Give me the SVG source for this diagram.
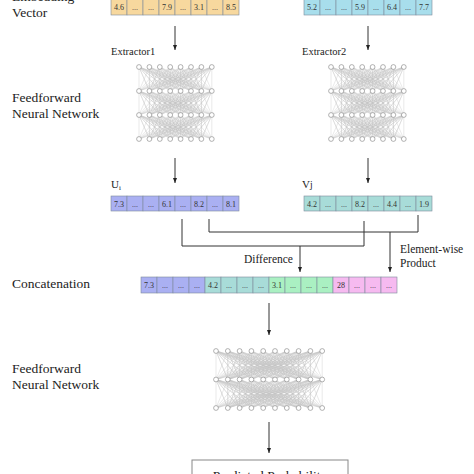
<svg xmlns="http://www.w3.org/2000/svg" xmlns:xlink="http://www.w3.org/1999/xlink" width="474" height="474" viewBox="0 0 474 474">
<style>
.lbl{font-family:"Liberation Serif","Times New Roman",serif;font-size:13.5px;fill:#222}
.sm{font-family:"Liberation Serif","Times New Roman",serif;font-size:10.5px;fill:#222}
.md{font-family:"Liberation Serif","Times New Roman",serif;font-size:11.5px;fill:#222}
.cv{font-family:"Liberation Serif","Times New Roman",serif;font-size:8px;fill:#333;text-anchor:middle}
.cell{stroke:#7d8a9c;stroke-width:0.6}
.o{fill:#f7d89e}.b{fill:#a8deec}.p{fill:#aab0f2}.t{fill:#a8dcd8}.g{fill:#aaf0c2}.k{fill:#f6baf0}
.con{fill:none;stroke:#333;stroke-width:1}
.edge{fill:none;stroke:#c4c4c4;stroke-width:0.35;stroke-linejoin:round}
.node{fill:#fff;stroke:#808080;stroke-width:0.6}
</style>
<defs>
<marker id="ah" markerUnits="userSpaceOnUse" markerWidth="6" markerHeight="5" refX="5" refY="2" orient="auto">
<path d="M0 0L5 2L0 4z" fill="#222"/>
</marker>
<path id="fc8" class="edge" d="M0 24L0 0L10 24L0 0L20 24L0 0L30 24L0 0L40 24L0 0L50 24L0 0L60 24L0 0L70 24M0 24L10 0L10 24L10 0L20 24L10 0L30 24L10 0L40 24L10 0L50 24L10 0L60 24L10 0L70 24M0 24L20 0L10 24L20 0L20 24L20 0L30 24L20 0L40 24L20 0L50 24L20 0L60 24L20 0L70 24M0 24L30 0L10 24L30 0L20 24L30 0L30 24L30 0L40 24L30 0L50 24L30 0L60 24L30 0L70 24M0 24L40 0L10 24L40 0L20 24L40 0L30 24L40 0L40 24L40 0L50 24L40 0L60 24L40 0L70 24M0 24L50 0L10 24L50 0L20 24L50 0L30 24L50 0L40 24L50 0L50 24L50 0L60 24L50 0L70 24M0 24L60 0L10 24L60 0L20 24L60 0L30 24L60 0L40 24L60 0L50 24L60 0L60 24L60 0L70 24M0 24L70 0L10 24L70 0L20 24L70 0L30 24L70 0L40 24L70 0L50 24L70 0L60 24L70 0L70 24"/>
<path id="fc10" class="edge" d="M0 28.5L0 0L10 28.5L0 0L20 28.5L0 0L30 28.5L0 0L40 28.5L0 0L50 28.5L0 0L60 28.5L0 0L70 28.5L0 0L80 28.5L0 0L90 28.5M0 28.5L10 0L10 28.5L10 0L20 28.5L10 0L30 28.5L10 0L40 28.5L10 0L50 28.5L10 0L60 28.5L10 0L70 28.5L10 0L80 28.5L10 0L90 28.5M0 28.5L20 0L10 28.5L20 0L20 28.5L20 0L30 28.5L20 0L40 28.5L20 0L50 28.5L20 0L60 28.5L20 0L70 28.5L20 0L80 28.5L20 0L90 28.5M0 28.5L30 0L10 28.5L30 0L20 28.5L30 0L30 28.5L30 0L40 28.5L30 0L50 28.5L30 0L60 28.5L30 0L70 28.5L30 0L80 28.5L30 0L90 28.5M0 28.5L40 0L10 28.5L40 0L20 28.5L40 0L30 28.5L40 0L40 28.5L40 0L50 28.5L40 0L60 28.5L40 0L70 28.5L40 0L80 28.5L40 0L90 28.5M0 28.5L50 0L10 28.5L50 0L20 28.5L50 0L30 28.5L50 0L40 28.5L50 0L50 28.5L50 0L60 28.5L50 0L70 28.5L50 0L80 28.5L50 0L90 28.5M0 28.5L60 0L10 28.5L60 0L20 28.5L60 0L30 28.5L60 0L40 28.5L60 0L50 28.5L60 0L60 28.5L60 0L70 28.5L60 0L80 28.5L60 0L90 28.5M0 28.5L70 0L10 28.5L70 0L20 28.5L70 0L30 28.5L70 0L40 28.5L70 0L50 28.5L70 0L60 28.5L70 0L70 28.5L70 0L80 28.5L70 0L90 28.5M0 28.5L80 0L10 28.5L80 0L20 28.5L80 0L30 28.5L80 0L40 28.5L80 0L50 28.5L80 0L60 28.5L80 0L70 28.5L80 0L80 28.5L80 0L90 28.5M0 28.5L90 0L10 28.5L90 0L20 28.5L90 0L30 28.5L90 0L40 28.5L90 0L50 28.5L90 0L60 28.5L90 0L70 28.5L90 0L80 28.5L90 0L90 28.5"/>
<g id="r8" class="node"><circle cx="0" cy="0" r="2.4"/><circle cx="10.4" cy="0" r="2.4"/><circle cx="20.8" cy="0" r="2.4"/><circle cx="31.2" cy="0" r="2.4"/><circle cx="41.6" cy="0" r="2.4"/><circle cx="52" cy="0" r="2.4"/><circle cx="62.4" cy="0" r="2.4"/><circle cx="72.8" cy="0" r="2.4"/></g>
<g id="r10" class="node"><circle cx="0" cy="0" r="2.4"/><circle cx="11.8" cy="0" r="2.4"/><circle cx="23.6" cy="0" r="2.4"/><circle cx="35.4" cy="0" r="2.4"/><circle cx="47.2" cy="0" r="2.4"/><circle cx="59" cy="0" r="2.4"/><circle cx="70.8" cy="0" r="2.4"/><circle cx="82.6" cy="0" r="2.4"/><circle cx="94.4" cy="0" r="2.4"/><circle cx="106.2" cy="0" r="2.4"/></g>
</defs>
<rect width="474" height="474" fill="#fff"/>

<g id="labels">
<text class="lbl" x="12" y="1">Embedding</text>
<text class="lbl" x="12" y="17">Vector</text>
<text class="lbl" x="12" y="102">Feedforward</text>
<text class="lbl" x="12" y="118">Neural Network</text>
<text class="lbl" x="12" y="288">Concatenation</text>
<text class="lbl" x="12" y="373">Feedforward</text>
<text class="lbl" x="12" y="389">Neural Network</text>
</g>

<g id="connectors">
<path class="con" d="M175 26V50" marker-end="url(#ah)"/>
<path class="con" d="M368 26V50" marker-end="url(#ah)"/>
<path class="con" d="M175 158V183" marker-end="url(#ah)"/>
<path class="con" d="M368 158V183" marker-end="url(#ah)"/>
<path class="con" d="M182 219V246H364V221"/>
<path class="con" d="M300 246V272" marker-end="url(#ah)"/>
<path class="con" d="M209 219V232H418V215"/>
<path class="con" d="M390 232V272" marker-end="url(#ah)"/>
<path class="con" d="M269 303V335" marker-end="url(#ah)"/>
<path class="con" d="M269 422V453" marker-end="url(#ah)"/>
<text class="md" x="244" y="263">Difference</text>
<text class="md" x="400" y="253">Element-wise</text>
<text class="md" x="400" y="267">Product</text>
</g>

<g id="embed1">
<g class="cell o"><rect x="111" y="-1" width="16" height="16"/><rect x="127" y="-1" width="16" height="16"/><rect x="143" y="-1" width="16" height="16"/><rect x="159" y="-1" width="16" height="16"/><rect x="175" y="-1" width="16" height="16"/><rect x="191" y="-1" width="16" height="16"/><rect x="207" y="-1" width="16" height="16"/><rect x="223" y="-1" width="16" height="16"/></g>
<text class="cv" x="119" y="10">4.6</text><text class="cv" x="135" y="10">...</text><text class="cv" x="151" y="10">...</text><text class="cv" x="167" y="10">7.9</text><text class="cv" x="183" y="10">...</text><text class="cv" x="199" y="10">3.1</text><text class="cv" x="215" y="10">...</text><text class="cv" x="231" y="10">8.5</text>
</g>

<g id="embed2">
<g class="cell b"><rect x="304" y="-1" width="16" height="16"/><rect x="320" y="-1" width="16" height="16"/><rect x="336" y="-1" width="16" height="16"/><rect x="352" y="-1" width="16" height="16"/><rect x="368" y="-1" width="16" height="16"/><rect x="384" y="-1" width="16" height="16"/><rect x="400" y="-1" width="16" height="16"/><rect x="416" y="-1" width="16" height="16"/></g>
<text class="cv" x="312" y="10">5.2</text><text class="cv" x="328" y="10">...</text><text class="cv" x="344" y="10">...</text><text class="cv" x="360" y="10">5.9</text><text class="cv" x="376" y="10">...</text><text class="cv" x="392" y="10">6.4</text><text class="cv" x="408" y="10">...</text><text class="cv" x="424" y="10">7.7</text>
</g>

<g id="extractor1">
<text class="sm" x="111" y="55">Extractor1</text>
<use xlink:href="#fc8" transform="translate(139,67) scale(1.04,1)"/>
<use xlink:href="#fc8" transform="translate(139,91) scale(1.04,1)"/>
<use xlink:href="#fc8" transform="translate(139,115) scale(1.04,1)"/>
<use xlink:href="#r8" x="139" y="67"/><use xlink:href="#r8" x="139" y="91"/><use xlink:href="#r8" x="139" y="115"/><use xlink:href="#r8" x="139" y="139"/>
</g>

<g id="extractor2">
<text class="sm" x="302" y="55">Extractor2</text>
<use xlink:href="#fc8" transform="translate(331,67) scale(1.04,1)"/>
<use xlink:href="#fc8" transform="translate(331,91) scale(1.04,1)"/>
<use xlink:href="#fc8" transform="translate(331,115) scale(1.04,1)"/>
<use xlink:href="#r8" x="331" y="67"/><use xlink:href="#r8" x="331" y="91"/><use xlink:href="#r8" x="331" y="115"/><use xlink:href="#r8" x="331" y="139"/>
</g>

<g id="ui">
<text class="sm" x="111" y="188" style="font-size:11px">U<tspan style="font-size:7px" dy="1.5">i</tspan></text>
<g class="cell p"><rect x="111" y="196" width="16" height="15"/><rect x="127" y="196" width="16" height="15"/><rect x="143" y="196" width="16" height="15"/><rect x="159" y="196" width="16" height="15"/><rect x="175" y="196" width="16" height="15"/><rect x="191" y="196" width="16" height="15"/><rect x="207" y="196" width="16" height="15"/><rect x="223" y="196" width="16" height="15"/></g>
<text class="cv" x="119" y="206.5">7.3</text><text class="cv" x="135" y="206.5">...</text><text class="cv" x="151" y="206.5">...</text><text class="cv" x="167" y="206.5">6.1</text><text class="cv" x="183" y="206.5">...</text><text class="cv" x="199" y="206.5">8.2</text><text class="cv" x="215" y="206.5">...</text><text class="cv" x="231" y="206.5">8.1</text>
</g>

<g id="vj">
<text class="sm" x="302" y="188" style="font-size:11px">V<tspan style="font-size:9.5px">j</tspan></text>
<g class="cell t"><rect x="304" y="196" width="16" height="15"/><rect x="320" y="196" width="16" height="15"/><rect x="336" y="196" width="16" height="15"/><rect x="352" y="196" width="16" height="15"/><rect x="368" y="196" width="16" height="15"/><rect x="384" y="196" width="16" height="15"/><rect x="400" y="196" width="16" height="15"/><rect x="416" y="196" width="16" height="15"/></g>
<text class="cv" x="312" y="206.5">4.2</text><text class="cv" x="328" y="206.5">...</text><text class="cv" x="344" y="206.5">...</text><text class="cv" x="360" y="206.5">8.2</text><text class="cv" x="376" y="206.5">...</text><text class="cv" x="392" y="206.5">4.4</text><text class="cv" x="408" y="206.5">...</text><text class="cv" x="424" y="206.5">1.9</text>
</g>

<g id="concat">
<g class="cell p"><rect x="141" y="277" width="16" height="16"/><rect x="157" y="277" width="16" height="16"/><rect x="173" y="277" width="16" height="16"/><rect x="189" y="277" width="16" height="16"/></g>
<g class="cell t"><rect x="205" y="277" width="16" height="16"/><rect x="221" y="277" width="16" height="16"/><rect x="237" y="277" width="16" height="16"/><rect x="253" y="277" width="16" height="16"/></g>
<g class="cell g"><rect x="269" y="277" width="16" height="16"/><rect x="285" y="277" width="16" height="16"/><rect x="301" y="277" width="16" height="16"/><rect x="317" y="277" width="16" height="16"/></g>
<g class="cell k"><rect x="333" y="277" width="16" height="16"/><rect x="349" y="277" width="16" height="16"/><rect x="365" y="277" width="16" height="16"/><rect x="381" y="277" width="16" height="16"/></g>
<text class="cv" x="149" y="288">7.3</text><text class="cv" x="165" y="288">...</text><text class="cv" x="181" y="288">...</text><text class="cv" x="197" y="288">...</text>
<text class="cv" x="213" y="288">4.2</text><text class="cv" x="229" y="288">...</text><text class="cv" x="245" y="288">...</text><text class="cv" x="261" y="288">...</text>
<text class="cv" x="277" y="288">3.1</text><text class="cv" x="293" y="288">...</text><text class="cv" x="309" y="288">...</text><text class="cv" x="325" y="288">...</text>
<text class="cv" x="341" y="288">28</text><text class="cv" x="357" y="288">...</text><text class="cv" x="373" y="288">...</text><text class="cv" x="389" y="288">...</text>
</g>

<g id="ffnn">
<use xlink:href="#fc10" transform="translate(216,351) scale(1.18,1)"/>
<use xlink:href="#fc10" transform="translate(216,379.5) scale(1.18,1)"/>
<use xlink:href="#r10" x="216" y="351"/><use xlink:href="#r10" x="216" y="379.5"/><use xlink:href="#r10" x="216" y="408"/>
</g>

<g id="output">
<rect x="192" y="460" width="156" height="40" fill="#fff" stroke="#888" stroke-width="1"/>
<text class="lbl" x="270" y="480" text-anchor="middle">Predicted Probability</text>
</g>
</svg>
